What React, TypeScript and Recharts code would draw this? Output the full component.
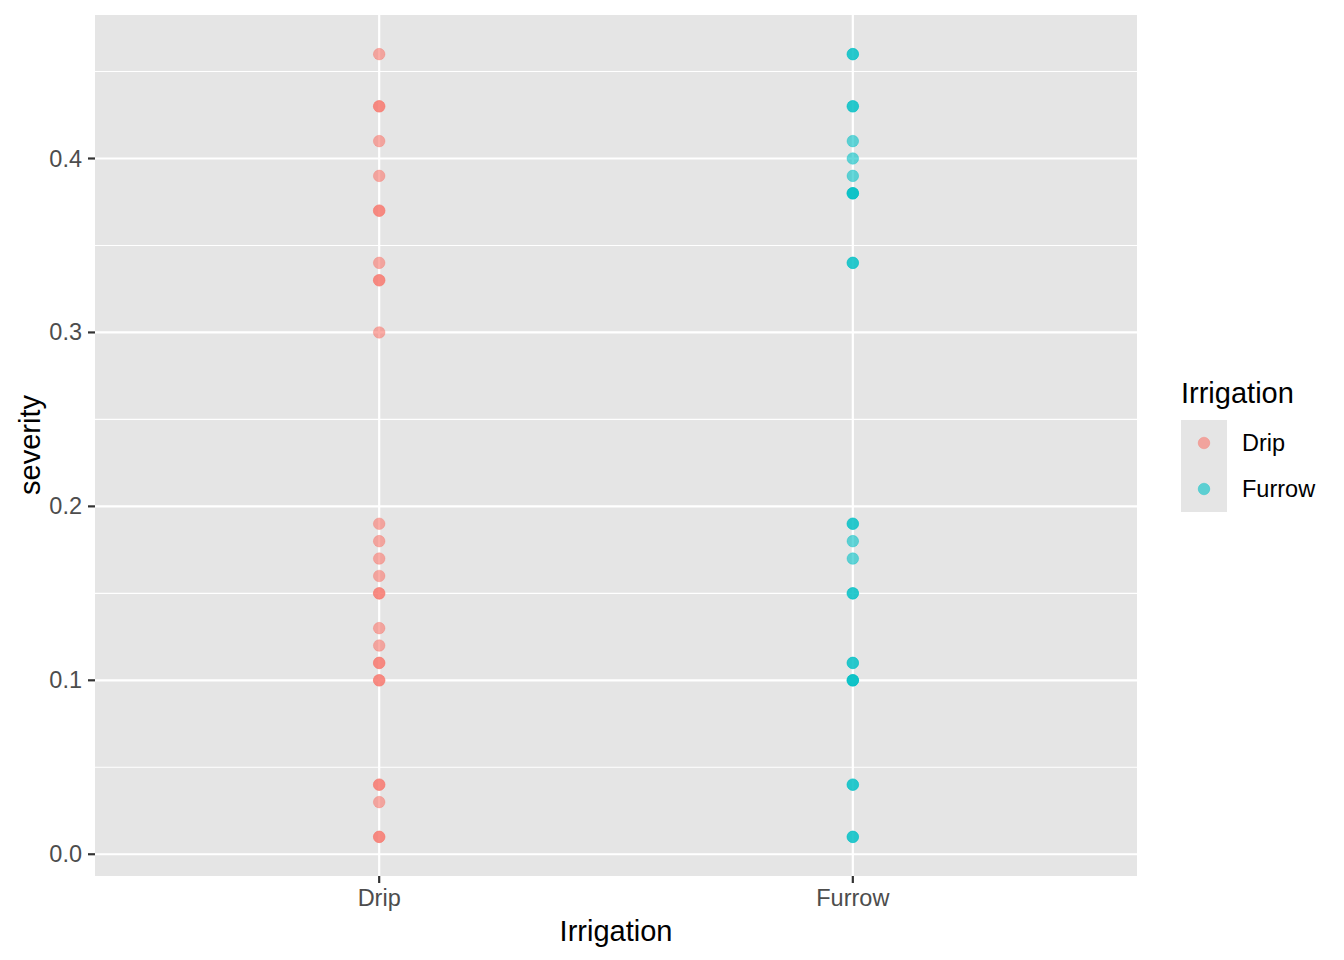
import { ScatterChart, Scatter, XAxis, YAxis, CartesianGrid } from "recharts";

const groups = ["Drip", "Furrow"];

// severity readings per irrigation type (repeats = overlapping points)
const dripSeverity = [
  0.46, 0.43, 0.43, 0.41, 0.39, 0.37, 0.37, 0.34, 0.33, 0.33, 0.3,
  0.19, 0.18, 0.17, 0.16, 0.15, 0.15, 0.13, 0.12, 0.11, 0.11, 0.1, 0.1,
  0.04, 0.04, 0.03, 0.01, 0.01,
];
const furrowSeverity = [
  0.46, 0.46, 0.43, 0.43, 0.41, 0.4, 0.39, 0.38, 0.38, 0.38, 0.34, 0.34,
  0.19, 0.19, 0.18, 0.17, 0.15, 0.15, 0.11, 0.11, 0.1, 0.1, 0.1,
  0.04, 0.04, 0.01, 0.01,
];

const yTicks = [0, 0.1, 0.2, 0.3, 0.4];
const yMinor = [0.05, 0.15, 0.25, 0.35, 0.45];

const COLORS = { Drip: "#F8766D", Furrow: "#00BFC4" };
const ALPHA = 0.6;

const dripData = dripSeverity.map((v) => ({ x: 1, y: v }));
const furrowData = furrowSeverity.map((v) => ({ x: 2, y: v }));

const FONT = "'Liberation Sans', Arial, Helvetica, sans-serif";

const dot = (color: string) => (props: any) => (
  <circle
    cx={props.cx}
    cy={props.cy}
    r={5.8}
    fill={color}
    fillOpacity={ALPHA}
    stroke={color}
    strokeOpacity={ALPHA * 0.6}
    strokeWidth={1}
  />
);

const YTick = (props: any) => {
  const { x, y, payload } = props;
  return (
    <text x={x - 4} y={y} dy={8} textAnchor="end" fill="#4D4D4D" fontSize={23.5} fontFamily={FONT}>
      {payload.value.toFixed(1)}
    </text>
  );
};

const XTick = (props: any) => {
  const { x, payload } = props;
  return (
    <text x={x} y={906} textAnchor="middle" fill="#4D4D4D" fontSize={23.5} fontFamily={FONT}>
      {groups[payload.value - 1]}
    </text>
  );
};

export default function App() {
  return (
    <div style={{ position: "absolute", left: 0, top: 0, width: 1344, height: 960, background: "#fff" }}>
      <ScatterChart width={1344} height={960} margin={{ top: 15, right: 207, bottom: 0, left: 0 }}>
        <CartesianGrid
          fill="#E5E5E5"
          fillOpacity={1}
          stroke="#FFFFFF"
          strokeWidth={1.1}
          horizontalValues={yMinor}
          vertical={false}
        />
        <CartesianGrid
          stroke="#FFFFFF"
          strokeWidth={2.2}
          horizontalValues={yTicks}
          verticalValues={[1, 2]}
        />
        <XAxis
          type="number"
          dataKey="x"
          domain={[0.4, 2.6]}
          ticks={[1, 2]}
          height={84}
          axisLine={false}
          tickLine={{ stroke: "#333333", strokeWidth: 2.2 }}
          tickSize={7}
          tick={<XTick />}
          allowDataOverflow
        />
        <YAxis
          type="number"
          dataKey="y"
          domain={[-0.0125, 0.4825]}
          ticks={yTicks}
          width={95}
          axisLine={false}
          tickLine={{ stroke: "#333333", strokeWidth: 2.2 }}
          tickSize={7}
          tick={<YTick />}
          allowDataOverflow
        />
        <Scatter name="Drip" data={dripData} shape={dot(COLORS.Drip)} isAnimationActive={false} />
        <Scatter name="Furrow" data={furrowData} shape={dot(COLORS.Furrow)} isAnimationActive={false} />
        <text x={616} y={941} textAnchor="middle" fontSize={29} fontFamily={FONT} fill="#000">
          Irrigation
        </text>
        <text
          x={40}
          y={445}
          textAnchor="middle"
          fontSize={29}
          fontFamily={FONT}
          fill="#000"
          transform="rotate(-90 40 445)"
        >
          severity
        </text>
      </ScatterChart>
      <svg
        width={180}
        height={160}
        style={{ position: "absolute", left: 1164, top: 370 }}
      >
        <text x={17} y={33} fontSize={29} fontFamily={FONT} fill="#000">
          Irrigation
        </text>
        <rect x={17} y={50} width={46} height={92} fill="#E5E5E5" />
        {groups.map((g, i) => (
          <g key={g}>
            <circle
              cx={40}
              cy={73 + i * 46}
              r={5.8}
              fill={COLORS[g as keyof typeof COLORS]}
              fillOpacity={ALPHA}
              stroke={COLORS[g as keyof typeof COLORS]}
              strokeOpacity={ALPHA * 0.6}
            />
            <text x={78} y={81 + i * 46} fontSize={23.5} fontFamily={FONT} fill="#000">
              {g}
            </text>
          </g>
        ))}
      </svg>
    </div>
  );
}
